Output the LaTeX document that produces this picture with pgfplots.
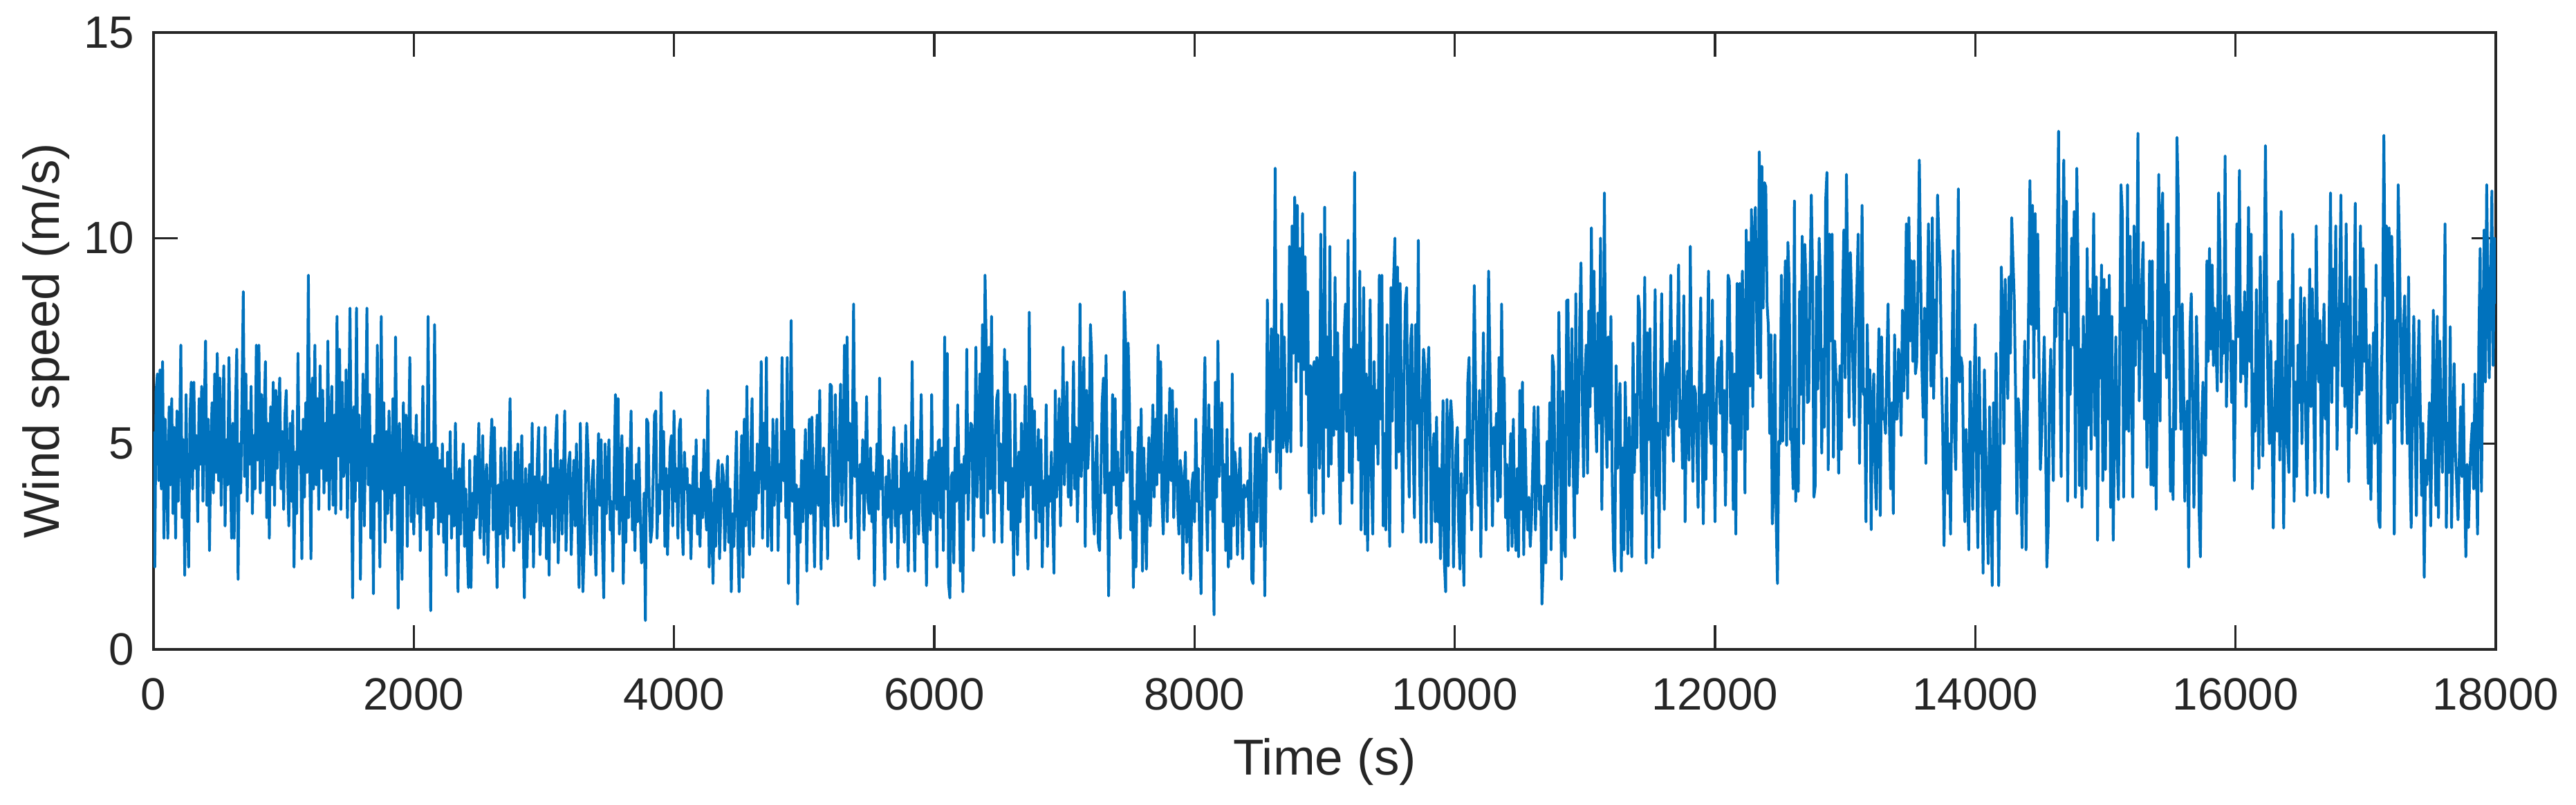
\documentclass[border=0pt]{standalone}
\usepackage{fontspec}
\setmainfont{Liberation Sans}
\usepackage{pgfplots}
\usepackage{pgfplotstable}
\pgfplotsset{compat=1.18}
\definecolor{mblue}{HTML}{0072BD}
\definecolor{agray}{HTML}{262626}
\pgfplotstableread[row sep=\\]{
y\\
5.3\\2.0\\6.3\\6.7\\4.1\\6.8\\3.9\\7.0\\2.7\\5.6\\
4.4\\2.7\\5.9\\4.0\\6.1\\3.3\\5.4\\2.7\\5.8\\3.6\\
5.0\\7.4\\3.2\\5.1\\1.8\\6.2\\3.4\\2.0\\5.6\\6.5\\
3.9\\6.5\\4.4\\5.2\\3.1\\6.1\\4.5\\6.4\\3.6\\5.8\\
7.5\\3.5\\5.6\\2.4\\4.9\\6.0\\3.8\\6.7\\4.3\\7.2\\
4.1\\6.6\\3.5\\5.4\\6.9\\3.0\\5.1\\4.0\\7.1\\4.6\\
2.7\\5.5\\2.7\\5.9\\7.3\\1.7\\5.0\\3.8\\6.2\\8.7\\
4.2\\6.7\\3.6\\5.8\\4.5\\6.4\\3.3\\5.2\\3.9\\7.4\\
4.6\\7.4\\3.8\\6.2\\4.1\\5.6\\7.0\\3.2\\5.5\\2.7\\
5.9\\4.0\\6.5\\3.5\\6.3\\4.4\\5.8\\6.6\\3.9\\5.3\\
3.4\\5.7\\6.3\\4.2\\3.0\\5.5\\3.6\\5.8\\2.0\\4.8\\
3.3\\7.2\\4.5\\5.3\\2.2\\5.6\\3.7\\6.0\\4.3\\9.1\\
4.6\\2.2\\6.6\\3.9\\7.4\\4.0\\6.1\\3.4\\6.9\\4.4\\
6.3\\3.8\\5.5\\4.1\\7.5\\3.4\\5.2\\6.4\\3.5\\5.7\\
3.3\\8.1\\4.7\\7.3\\3.4\\6.5\\4.2\\4.4\\6.8\\3.2\\
5.4\\8.3\\4.5\\1.25\\5.9\\3.6\\8.3\\4.1\\5.7\\1.7\\
4.6\\6.7\\3.0\\5.3\\8.3\\4.0\\6.2\\2.7\\5.0\\1.35\\
5.2\\3.6\\7.4\\4.5\\2.0\\8.1\\3.9\\6.0\\2.6\\5.3\\
3.3\\5.8\\4.2\\2.9\\6.1\\3.8\\7.6\\4.4\\1.0\\5.5\\
3.6\\1.7\\6.0\\4.0\\5.7\\2.5\\4.8\\7.1\\3.1\\5.2\\
2.8\\4.6\\5.7\\3.3\\5.0\\2.4\\4.3\\6.4\\3.5\\4.9\\
2.9\\8.1\\3.8\\0.94\\5.0\\3.2\\7.9\\3.6\\4.9\\2.8\\
4.6\\3.1\\5.0\\2.6\\4.4\\1.8\\4.8\\3.3\\5.3\\2.7\\
4.1\\3.0\\5.5\\3.7\\1.4\\4.4\\2.8\\4.2\\5.0\\2.5\\
3.9\\2.6\\1.5\\4.6\\1.5\\3.8\\2.9\\4.7\\3.2\\4.3\\
5.5\\2.7\\3.9\\5.2\\2.3\\4.1\\4.5\\2.1\\3.6\\4.8\\
5.6\\2.9\\5.4\\3.3\\1.5\\4.0\\2.8\\4.9\\3.1\\2.0\\
4.9\\3.4\\2.7\\4.3\\6.1\\3.0\\4.1\\2.4\\4.8\\3.5\\
5.0\\2.6\\3.8\\5.2\\3.0\\1.25\\4.4\\2.0\\3.7\\4.5\\
2.8\\5.5\\2.0\\4.2\\3.1\\4.6\\5.4\\2.3\\3.6\\4.2\\
3.0\\5.4\\2.2\\4.0\\1.8\\4.85\\3.3\\4.4\\2.6\\5.0\\
5.7\\2.1\\3.9\\4.6\\2.8\\4.2\\5.8\\2.4\\3.7\\4.5\\
4.8\\2.3\\3.6\\4.6\\3.0\\5.0\\3.4\\1.5\\5.5\\3.1\\
1.4\\2.5\\4.0\\5.5\\4.7\\3.2\\2.3\\4.1\\4.6\\2.9\\
1.8\\3.8\\5.25\\3.5\\5.1\\2.6\\1.25\\5.0\\3.3\\4.2\\
5.1\\2.9\\3.6\\1.9\\4.3\\6.2\\3.4\\6.1\\2.8\\4.4\\
5.2\\1.6\\3.7\\2.6\\4.9\\3.2\\4.3\\5.8\\2.9\\4.1\\
2.4\\4.5\\3.1\\4.9\\3.4\\2.1\\2.2\\3.8\\0.7\\5.6\\
5.5\\3.5\\2.6\\2.9\\4.2\\5.7\\5.8\\2.7\\4.0\\3.3\\
6.25\\3.9\\5.3\\2.5\\4.4\\2.3\\3.7\\4.9\\5.2\\3.0\\
5.8\\3.6\\4.4\\2.7\\5.35\\5.6\\3.2\\2.3\\4.8\\3.9\\
4.4\\2.9\\4.0\\2.2\\3.6\\4.7\\3.3\\5.1\\2.8\\3.9\\
2.5\\4.3\\3.2\\5.1\\3.6\\2.9\\6.3\\2.0\\4.1\\3.0\\
1.6\\3.9\\2.5\\4.2\\4.6\\2.2\\3.4\\4.5\\4.2\\2.4\\
3.6\\4.7\\2.6\\3.9\\1.4\\3.3\\2.5\\4.0\\5.3\\2.7\\
1.4\\3.8\\5.2\\1.75\\5.6\\3.0\\6.4\\3.5\\2.3\\4.8\\
6.1\\2.5\\4.3\\3.4\\5.0\\3.8\\4.6\\7.0\\2.7\\5.5\\
3.9\\7.1\\2.5\\4.9\\3.6\\2.4\\5.6\\3.5\\4.7\\5.6\\
2.4\\4.5\\3.6\\7.1\\4.1\\5.3\\3.2\\7.1\\1.6\\4.4\\
8.0\\3.6\\5.35\\2.8\\4.0\\1.1\\3.9\\2.6\\4.6\\3.1\\
4.2\\5.35\\1.9\\4.0\\5.6\\3.3\\5.65\\3.7\\2.0\\4.4\\
5.7\\3.5\\6.3\\1.95\\3.8\\4.9\\3.0\\4.2\\2.2\\4.6\\
6.45\\6.4\\3.6\\3.0\\6.2\\4.1\\3.0\\5.0\\6.45\\3.5\\
4.7\\7.4\\3.1\\7.6\\4.6\\5.5\\2.7\\4.8\\8.4\\4.2\\
6.0\\3.4\\2.2\\4.5\\3.8\\5.1\\2.9\\4.4\\6.15\\3.6\\
3.3\\4.9\\3.1\\4.3\\1.55\\3.8\\5.0\\3.4\\6.6\\3.9\\
4.7\\2.9\\1.7\\4.2\\3.2\\4.6\\3.6\\2.6\\4.4\\5.4\\
3.0\\4.7\\2.0\\3.9\\3.3\\5.0\\3.5\\2.6\\5.45\\3.8\\
1.9\\4.3\\3.4\\7.0\\3.6\\1.9\\4.0\\5.1\\2.8\\4.5\\
6.2\\3.3\\2.6\\4.1\\1.55\\3.9\\4.6\\2.9\\6.2\\3.4\\
3.3\\4.8\\2.0\\5.05\\5.1\\3.2\\4.9\\2.4\\7.6\\3.9\\
7.2\\1.6\\1.25\\4.2\\4.3\\2.1\\4.9\\3.6\\5.95\\4.4\\
1.9\\4.5\\1.4\\4.7\\3.8\\7.3\\3.15\\4.6\\5.5\\5.45\\
2.4\\4.3\\7.35\\3.7\\5.2\\6.7\\3.2\\7.9\\2.75\\9.1\\
7.3\\3.3\\7.35\\3.9\\8.1\\4.3\\2.6\\5.2\\6.1\\6.3\\
3.8\\5.0\\2.6\\4.5\\7.3\\4.1\\7.0\\3.4\\6.2\\2.9\\
4.4\\1.8\\6.2\\3.6\\2.3\\4.8\\3.1\\5.5\\3.7\\4.6\\
6.4\\3.3\\1.95\\8.2\\4.0\\6.1\\3.4\\5.8\\2.7\\4.3\\
5.35\\3.1\\5.1\\2.0\\4.1\\3.5\\5.95\\2.5\\4.2\\3.6\\
4.8\\3.2\\1.85\\6.3\\3.7\\4.5\\6.1\\3.0\\4.9\\7.35\\
4.0\\5.6\\6.5\\3.7\\5.0\\3.5\\4.8\\7.0\\3.9\\5.4\\
3.1\\4.6\\8.4\\4.2\\6.1\\7.1\\2.5\\6.3\\4.4\\5.2\\
7.9\\7.1\\3.5\\2.8\\4.5\\5.2\\2.6\\2.4\\4.1\\6.0\\
6.6\\3.8\\7.15\\4.2\\1.3\\4.3\\3.3\\6.2\\4.0\\6.1\\
3.5\\4.8\\3.2\\2.7\\5.3\\4.1\\8.7\\7.5\\4.3\\7.45\\
6.0\\2.9\\4.8\\1.5\\3.6\\2.0\\4.4\\5.4\\3.3\\5.85\\
1.9\\4.9\\3.5\\1.95\\4.2\\5.15\\3.0\\4.4\\5.95\\3.7\\
5.6\\4.0\\7.4\\4.3\\7.0\\3.6\\2.8\\4.6\\5.7\\3.1\\
4.5\\6.35\\4.1\\6.3\\3.2\\4.7\\5.85\\3.5\\2.8\\4.6\\
4.3\\1.85\\3.9\\4.8\\2.6\\4.1\\3.3\\1.7\\4.0\\4.3\\
3.1\\5.6\\3.6\\4.4\\2.5\\1.35\\4.0\\5.45\\7.1\\3.8\\
2.4\\5.95\\3.4\\5.35\\3.0\\0.84\\6.5\\3.7\\7.5\\4.2\\
5.4\\6.0\\3.1\\4.5\\2.4\\5.35\\2.0\\4.2\\2.2\\6.7\\
3.0\\4.8\\4.3\\2.3\\3.9\\4.9\\3.3\\2.2\\4.0\\3.7\\
3.8\\4.1\\2.9\\5.25\\1.7\\1.6\\3.8\\5.15\\3.1\\5.1\\
5.25\\2.5\\4.0\\4.9\\1.3\\4.2\\8.5\\5.6\\4.8\\7.8\\
5.1\\6.9\\11.7\\4.3\\7.65\\5.5\\3.9\\8.4\\4.9\\7.6\\
5.2\\4.8\\5.35\\9.8\\4.8\\10.3\\7.2\\11.0\\6.5\\10.8\\
7.0\\9.75\\4.95\\10.6\\6.8\\9.55\\6.2\\8.7\\3.8\\6.9\\
3.1\\6.8\\7.0\\3.25\\7.1\\6.8\\4.4\\10.1\\5.9\\3.3\\
10.75\\5.4\\7.6\\4.2\\9.8\\4.5\\7.1\\5.2\\9.05\\5.35\\
7.7\\4.7\\3.05\\6.2\\4.1\\7.65\\8.4\\5.3\\9.95\\4.3\\
7.3\\3.55\\6.4\\11.6\\5.2\\7.4\\4.6\\9.2\\2.9\\6.0\\
8.8\\2.8\\6.7\\2.4\\5.35\\8.5\\4.1\\2.8\\7.0\\5.0\\
6.3\\4.5\\9.1\\5.6\\9.1\\3.0\\5.25\\2.9\\7.9\\4.6\\
2.5\\8.8\\5.55\\9.0\\10.0\\4.4\\9.3\\4.8\\8.9\\5.9\\
2.85\\6.6\\8.4\\8.8\\5.1\\3.7\\7.45\\7.9\\5.0\\3.2\\
7.9\\5.5\\9.95\\4.3\\2.6\\6.0\\7.3\\6.8\\2.6\\6.4\\
7.35\\5.3\\2.6\\4.7\\5.25\\3.1\\5.65\\3.1\\4.4\\2.2\\
4.1\\6.05\\2.1\\1.4\\6.08\\2.03\\5.35\\6.05\\5.5\\2.0\\
3.6\\4.96\\5.4\\3.0\\1.95\\4.28\\3.2\\1.55\\5.1\\3.8\\
6.5\\7.1\\4.2\\2.9\\5.6\\8.85\\6.3\\4.4\\3.5\\6.3\\
2.25\\5.1\\7.7\\4.57\\2.9\\5.8\\9.2\\7.0\\4.8\\3.0\\
5.4\\4.375\\5.74\\3.6\\7.1\\3.7\\8.4\\5.0\\6.6\\3.2\\
4.5\\2.4\\4.0\\5.25\\2.5\\5.6\\3.3\\2.4\\4.4\\2.25\\
6.3\\3.4\\6.5\\2.3\\5.35\\3.6\\2.9\\3.7\\2.5\\3.2\\
4.6\\5.9\\2.9\\4.3\\5.9\\3.4\\3.98\\1.1\\2.13\\3.98\\
2.1\\5.06\\3.6\\6.0\\2.42\\7.15\\6.87\\4.4\\2.9\\4.42\\
8.2\\5.2\\1.7\\6.28\\2.52\\2.25\\8.48\\8.5\\3.98\\5.6\\
7.8\\4.5\\2.71\\8.65\\3.79\\5.0\\7.95\\9.4\\6.1\\4.2\\
6.6\\7.4\\4.28\\8.23\\5.9\\10.25\\6.4\\9.2\\6.0\\4.8\\
8.18\\5.5\\10.0\\3.4\\6.33\\11.1\\5.8\\4.42\\7.6\\5.1\\
8.1\\4.08\\2.42\\1.9\\6.9\\4.4\\5.55\\6.47\\1.9\\4.9\\
2.42\\6.5\\4.6\\2.32\\5.64\\3.7\\2.25\\7.45\\4.3\\6.2\\
4.9\\8.6\\8.23\\5.0\\3.3\\6.1\\9.05\\2.1\\7.7\\5.1\\
7.8\\4.5\\2.23\\6.0\\8.75\\3.74\\5.5\\2.47\\6.4\\8.65\\
5.35\\3.4\\6.7\\6.96\\5.2\\6.5\\9.1\\5.8\\4.57\\7.5\\
5.6\\7.2\\9.35\\5.4\\6.04\\4.4\\8.6\\3.1\\5.9\\6.77\\
4.6\\9.8\\6.1\\4.08\\6.4\\6.23\\5.0\\3.45\\6.7\\8.55\\
5.3\\3.05\\6.2\\4.13\\7.0\\9.2\\5.6\\5.0\\8.5\\5.4\\
3.1\\5.9\\6.96\\7.1\\5.74\\7.5\\4.8\\6.3\\3.5\\5.8\\
9.1\\8.95\\5.5\\7.2\\3.4\\6.7\\2.8\\8.9\\4.86\\8.9\\
4.86\\9.2\\7.5\\3.8\\10.2\\5.35\\9.9\\6.4\\10.7\\5.9\\
10.0\\10.75\\8.2\\6.7\\12.1\\6.6\\11.75\\8.3\\11.35\\11.25\\
8.4\\7.85\\5.25\\7.65\\3.05\\3.8\\7.65\\3.1\\1.6\\5.06\\
5.0\\9.1\\5.06\\7.2\\9.45\\4.96\\9.9\\8.9\\5.1\\5.15\\
3.9\\10.9\\3.6\\5.35\\3.84\\8.7\\6.2\\10.05\\5.0\\9.85\\
8.87\\6.0\\6.04\\9.0\\11.05\\9.06\\3.7\\3.98\\9.06\\6.33\\
10.0\\8.97\\4.77\\7.3\\5.4\\10.9\\11.6\\4.37\\10.1\\7.5\\
10.1\\4.67\\7.5\\6.6\\6.4\\4.28\\6.9\\4.86\\8.48\\10.2\\
6.6\\11.55\\9.06\\5.64\\9.65\\8.48\\6.8\\5.45\\7.8\\8.77\\
10.1\\4.52\\7.4\\10.8\\6.2\\6.33\\3.1\\7.9\\5.5\\6.8\\
2.91\\6.0\\6.7\\4.28\\3.4\\6.2\\7.8\\3.25\\7.6\\5.6\\
5.74\\5.25\\6.9\\8.4\\5.5\\3.9\\6.0\\3.3\\7.65\\5.6\\
5.6\\7.3\\7.0\\5.2\\8.25\\6.28\\7.4\\10.35\\6.1\\10.5\\
7.5\\9.45\\7.0\\9.45\\6.7\\7.0\\9.0\\11.9\\9.25\\6.8\\
5.64\\8.3\\4.52\\7.5\\10.35\\8.3\\6.4\\10.5\\6.1\\8.5\\
7.2\\11.05\\10.0\\9.3\\6.9\\5.25\\2.52\\4.9\\6.6\\3.79\\
5.0\\2.8\\6.4\\9.7\\5.25\\4.37\\7.8\\11.2\\6.5\\7.1\\
6.9\\4.6\\3.1\\5.35\\4.0\\2.42\\7.0\\5.1\\3.4\\6.2\\
7.9\\4.4\\2.47\\7.1\\4.77\\5.3\\1.85\\6.8\\5.0\\3.4\\
2.08\\5.9\\3.9\\1.55\\6.0\\3.4\\7.2\\4.4\\1.55\\4.57\\
9.3\\8.1\\5.0\\9.0\\7.4\\6.1\\9.06\\7.2\\10.5\\9.45\\
8.48\\6.2\\3.3\\6.1\\5.6\\4.2\\2.47\\5.5\\7.5\\2.42\\
5.6\\8.4\\11.4\\7.9\\10.8\\6.6\\10.6\\7.8\\10.1\\7.0\\
4.37\\5.15\\6.4\\7.6\\5.2\\2.0\\2.91\\6.1\\7.3\\5.6\\
4.1\\8.3\\7.6\\9.8\\12.6\\7.2\\4.2\\9.3\\11.9\\8.2\\
10.9\\3.6\\7.5\\6.2\\10.0\\7.4\\10.65\\3.7\\11.7\\9.25\\
3.98\\7.3\\3.45\\8.1\\6.5\\3.9\\9.75\\5.45\\8.77\\4.86\\
7.6\\10.6\\5.2\\9.06\\2.65\\8.1\\6.6\\9.35\\4.1\\9.0\\
4.37\\8.75\\5.6\\9.1\\3.45\\8.1\\2.65\\5.2\\7.6\\4.77\\
3.64\\7.3\\11.3\\10.6\\3.7\\8.3\\5.35\\11.3\\5.3\\10.05\\
7.4\\3.7\\10.3\\6.9\\8.5\\12.55\\6.04\\7.8\\9.0\\9.9\\
5.6\\8.0\\4.42\\7.0\\9.45\\4.0\\9.45\\3.98\\6.7\\3.4\\
7.8\\11.55\\5.55\\10.6\\11.1\\7.2\\8.87\\6.6\\10.35\\7.0\\
3.84\\5.35\\3.64\\8.1\\5.35\\12.45\\11.0\\7.3\\5.35\\8.4\\
6.7\\3.6\\5.5\\6.04\\2.0\\7.8\\8.65\\6.4\\3.45\\5.35\\
8.1\\6.7\\3.4\\2.25\\5.5\\6.5\\4.77\\4.72\\9.45\\7.0\\
9.75\\7.3\\9.35\\6.9\\8.3\\7.3\\6.28\\11.1\\9.75\\6.5\\
8.0\\7.2\\12.0\\5.9\\7.6\\8.6\\7.8\\6.0\\7.5\\4.1\\
6.8\\10.35\\7.6\\11.65\\6.5\\8.2\\6.7\\8.7\\5.9\\7.2\\
10.75\\7.0\\10.1\\3.9\\6.7\\5.3\\8.75\\6.2\\4.4\\9.55\\
7.1\\4.7\\8.9\\12.25\\8.4\\6.3\\5.0\\7.5\\5.8\\2.95\\
5.6\\7.0\\5.3\\8.95\\4.6\\10.65\\6.8\\2.95\\6.0\\8.0\\
5.0\\4.3\\8.5\\6.9\\10.1\\3.6\\6.5\\4.2\\7.4\\6.0\\
8.8\\5.0\\7.2\\8.55\\5.5\\3.74\\6.6\\9.25\\5.9\\8.77\\
6.4\\3.8\\10.3\\7.5\\6.5\\8.0\\3.8\\6.9\\8.4\\5.6\\
7.4\\3.7\\8.2\\11.1\\6.0\\9.25\\6.9\\10.3\\4.86\\7.6\\
8.7\\11.05\\6.4\\8.4\\5.9\\10.35\\7.0\\4.08\\9.06\\5.4\\
6.8\\7.5\\10.85\\5.25\\7.6\\6.2\\10.3\\6.3\\9.75\\7.0\\
8.77\\6.0\\4.03\\7.4\\3.64\\6.2\\7.7\\5.0\\9.35\\6.2\\
3.15\\2.96\\6.5\\8.0\\12.5\\8.6\\10.3\\5.5\\10.25\\5.6\\
10.05\\8.4\\2.8\\8.0\\6.0\\11.3\\9.75\\7.0\\5.0\\7.8\\
8.6\\6.5\\5.0\\9.06\\4.5\\2.96\\6.3\\8.1\\5.6\\3.25\\
6.5\\8.0\\5.8\\3.74\\5.5\\1.75\\4.6\\4.0\\4.96\\6.0\\
3.0\\5.6\\8.25\\5.5\\3.5\\8.1\\3.2\\7.5\\5.6\\4.3\\
6.6\\10.35\\2.96\\5.5\\4.3\\7.85\\2.96\\5.0\\6.95\\4.8\\
4.0\\3.15\\4.7\\5.9\\4.2\\6.45\\4.0\\2.25\\4.5\\2.96\\
4.2\\5.0\\5.5\\3.9\\6.7\\4.5\\2.8\\7.5\\9.75\\3.84\\
7.0\\10.2\\6.5\\11.3\\8.7\\6.6\\9.0\\11.15\\6.9\\10.0\\
8.4\\
}\wind
\begin{document}
\begin{tikzpicture}
\begin{axis}[
  scale only axis, width=677.4pt, height=178.4pt,
  xmin=0, xmax=18000, ymin=0, ymax=15,
  xtick={0,2000,...,18000}, ytick={0,5,10,15},
  scaled x ticks=false,
  /pgf/number format/1000 sep={},
  /pgf/number format/assume math mode=true,
  tick align=inside, major tick length=7pt,
  every tick/.style={agray, line width=0.7pt},
  axis line style={agray, line width=0.7pt},
  ticklabel style={font=\fontsize{13.1}{15}\selectfont, text=agray},
  xticklabel style={yshift=-4.8pt},
  yticklabel style={xshift=-2pt},
  every axis x label/.style={at={(axis description cs:0.5,0)}, anchor=north, yshift=-22.2pt, font=\fontsize{14.6}{17}\selectfont, text=agray},
  every axis y label/.style={at={(axis description cs:-0.04576,0.5)}, anchor=center, rotate=90, font=\fontsize{14.6}{17}\selectfont, text=agray},
  xlabel={Time (s)}, ylabel={Wind speed (m/s)},
]
\addplot[mblue, line width=0.8pt, line join=round, mark=none] table[x expr=\coordindex*10, y=y] {\wind};
\end{axis}
\pgfresetboundingbox
\useasboundingbox (-44.4pt,-45pt) rectangle (700.6pt,187.8pt);
\end{tikzpicture}
\end{document}
